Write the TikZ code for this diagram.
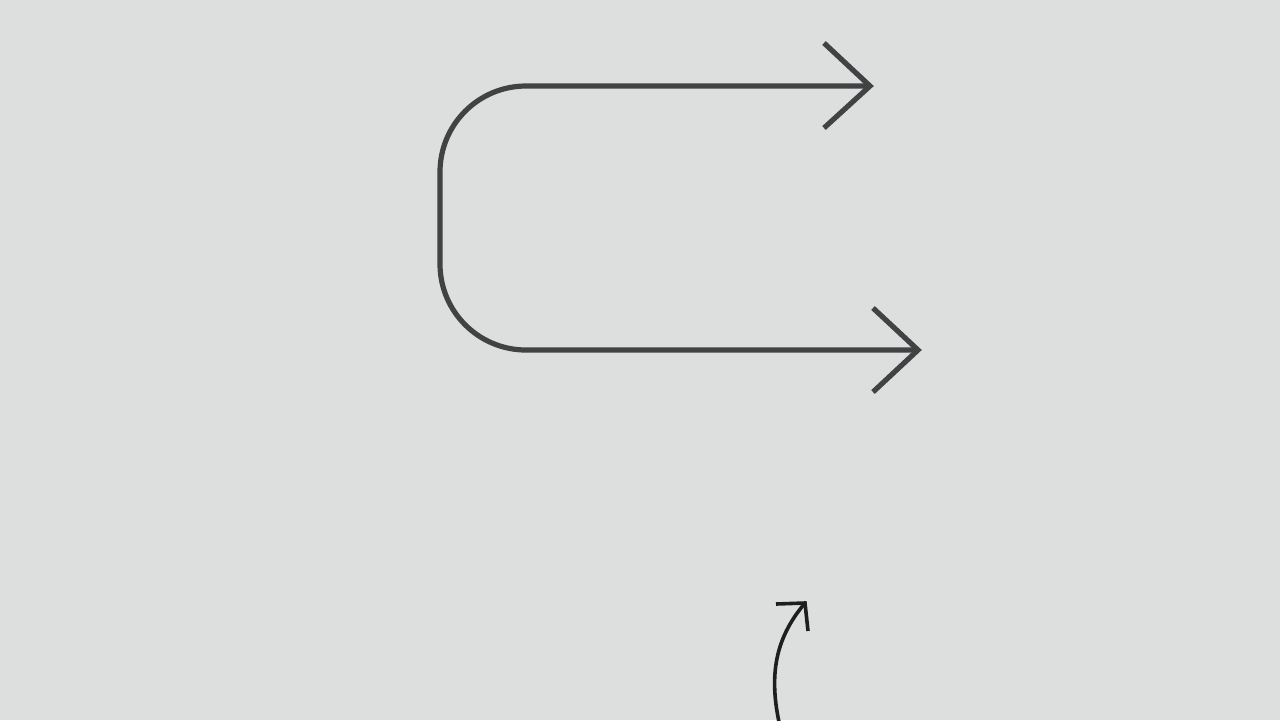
\documentclass[tikz,border=0pt]{standalone}
\usepackage{tikz}
\definecolor{bg}{RGB}{221,223,222}
\definecolor{ink}{RGB}{64,66,68}
\definecolor{pen}{RGB}{30,30,30}
\tikzset{
  bigline/.style={draw=ink, line width=2.6pt, line join=miter},
  smallline/.style={draw=pen, line width=1.8pt, line cap=butt, line join=miter},
}
\begin{document}
\begin{tikzpicture}[x=0.5pt,y=-0.5pt]
\fill[bg] (0,0) rectangle (1280,720);
\useasboundingbox (0,0) rectangle (1280,720);
\coordinate (topTip) at (870,86);
\coordinate (botTip) at (918,350);
\draw[bigline, rounded corners=43pt] (topTip) -- (440,86) -- (440,350) -- (botTip);
\draw[bigline] (824,43) -- (topTip) -- (824,128);
\draw[bigline] (873,308) -- (botTip) -- (873,392);
\coordinate (sStart) at (779,722);
\coordinate (sTip) at (805,603);
\draw[smallline] (sStart) .. controls (768,670) and (778,635) .. (sTip);
\draw[smallline] (776,604) -- (sTip) -- (808,631);
\end{tikzpicture}
\end{document}
